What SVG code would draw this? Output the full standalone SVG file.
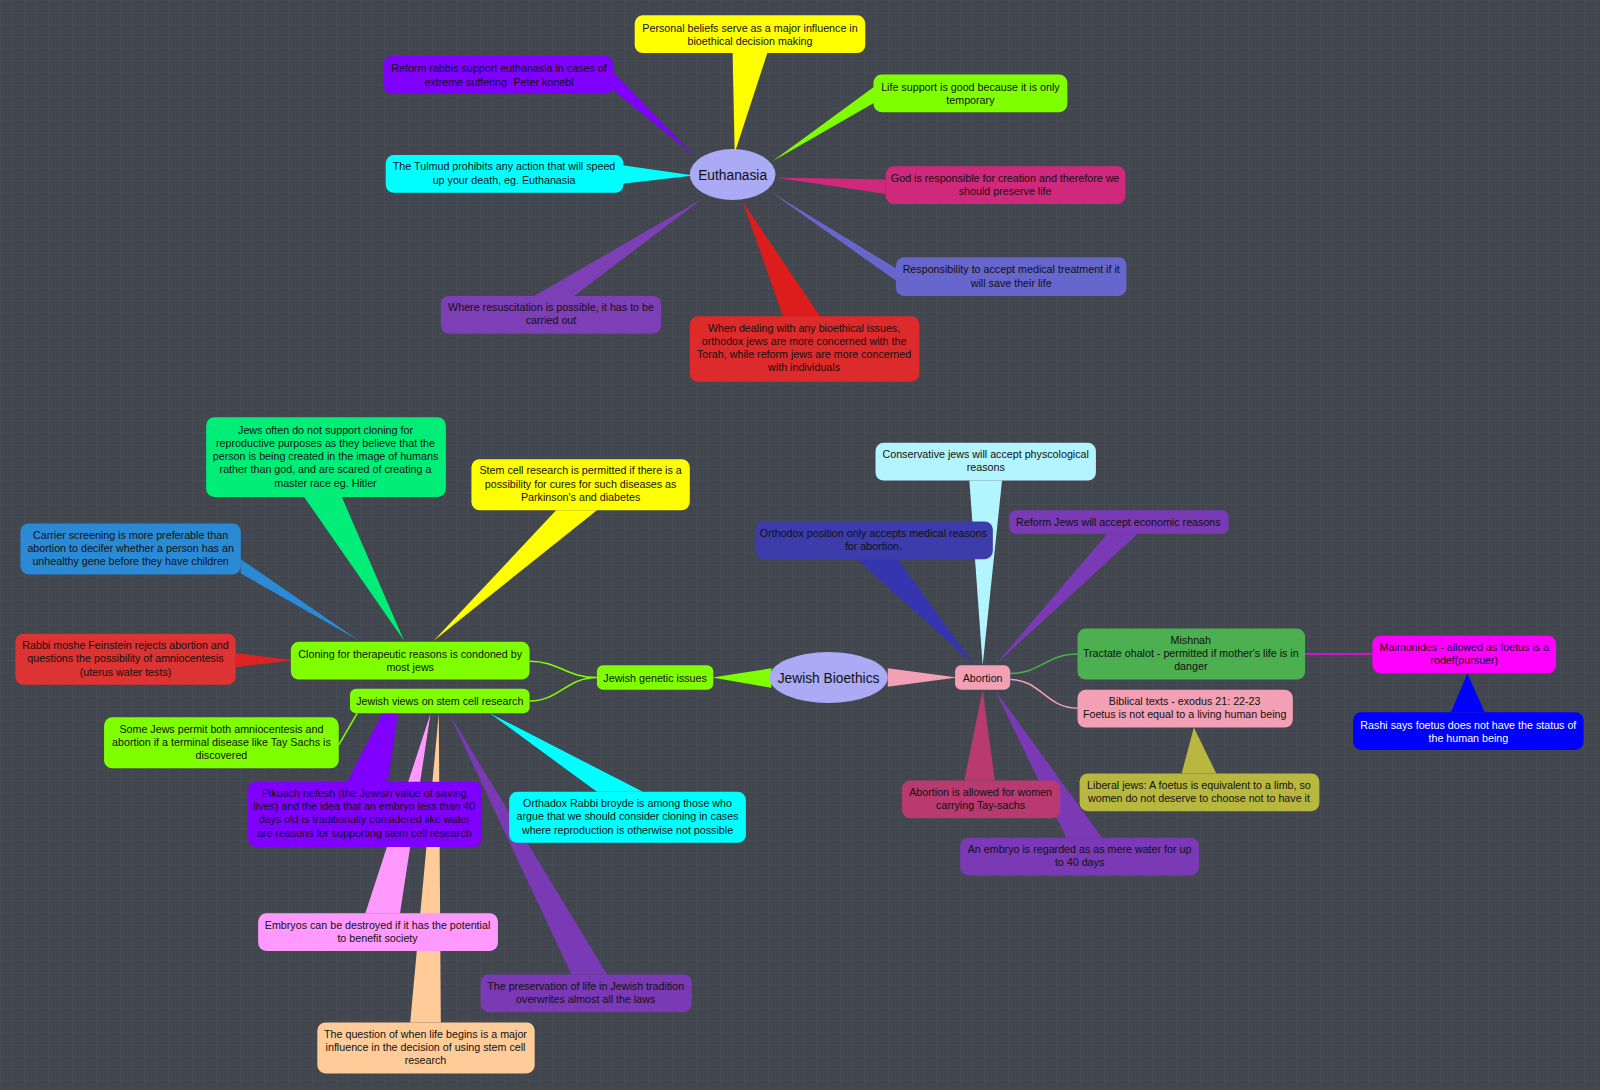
<svg xmlns="http://www.w3.org/2000/svg" width="1600" height="1090" viewBox="0 0 1600 1090">
<defs>
<pattern id="grid" width="12" height="12" patternUnits="userSpaceOnUse"><rect width="12" height="12" fill="#41464f"/><path d="M12 0H0V12" fill="none" stroke="#4a4f58" stroke-width="1"/></pattern>
<style>
text{font-family:"Liberation Sans",Arial,sans-serif;font-size:10.5px;fill:#111;text-anchor:middle}
.w{fill:#fff}
.big{font-size:13.5px}
.ln{fill:none;stroke-width:1.5}
</style>
</defs>
<rect width="1600" height="1090" fill="url(#grid)"/>
<g transform="scale(1.0204)">
<g id="connectors">
<polygon points="720,150 718,52 752,52" fill="#ffff00"/>
<polygon points="680,152 598,68 598,86" fill="#8000ff"/>
<polygon points="757,158 858,84 858,100" fill="#80ff00"/>
<polygon points="680,172 610,162 610,180" fill="#00ffff"/>
<polygon points="760,174 868,176 868,190" fill="#d0287a"/>
<polygon points="755,188 878,263 878,275" fill="#6666cc"/>
<polygon points="688,195 520,292 560,292" fill="#7d3fb5"/>
<polygon points="728,198 768,312 805,312" fill="#dd1c1c"/>
<polygon points="698,664 756,655 756,674" fill="#80ff00"/>
<polygon points="870,655 870,673 938,664" fill="#f4a0b4"/>
<path class="ln" d="M585,664 C555,664 548,648 519,648 M585,664 C555,664 548,687 519,687" stroke="#80ff00"/>
<polygon points="396,628 298,487 335,487" fill="#00ee77"/>
<polygon points="425,628 545,500 585,500" fill="#ffff00"/>
<polygon points="352,628 236,548 236,562" fill="#2a8ad6"/>
<polygon points="287,647 231,640 231,654" fill="#dd2222"/>
<path class="ln" d="M350,699 L332,730" stroke="#80ff00"/>
<polygon points="375,699 390,699 380,766 340,766" fill="#8000ff"/>
<polygon points="422,699 358,895 392,895" fill="#ff99ff"/>
<polygon points="430,699 402,1002 432,1002" fill="#ffcc99"/>
<polygon points="440,699 560,955 595,955" fill="#7a3ab5"/>
<polygon points="480,699 585,776 630,776" fill="#00ffff"/>
<polygon points="963,652 950,471 982,471" fill="#b3f5ff"/>
<polygon points="955,652 840,548 880,548" fill="#3535b0"/>
<polygon points="975,652 1085,523 1115,523" fill="#7a3ab5"/>
<path class="ln" d="M990,660 C1020,660 1025,641 1056,641" stroke="#4caf50"/>
<path class="ln" d="M990,666 C1020,666 1025,694 1056,694" stroke="#f4a0b4"/>
<path class="ln" d="M1279,641 L1345,641" stroke="#ff00ff"/>
<polygon points="1438,660 1422,698 1455,698" fill="#0000ff"/>
<polygon points="1170,713 1158,758 1192,758" fill="#b8b840"/>
<polygon points="963,676 945,765 975,765" fill="#b83a70"/>
<polygon points="975,676 1045,821 1080,821" fill="#7a3ab5"/>
</g>
<g id="euthanasia"><ellipse cx="718" cy="171" rx="42" ry="25" fill="#aaaaf5"/><text class="big" x="718" y="176">Euthanasia</text></g>
<g id="bioethics"><ellipse cx="812" cy="664" rx="58" ry="25" fill="#aaaaf5"/><text class="big" x="812" y="669">Jewish Bioethics</text></g>
<g id="n1"><rect x="622" y="15" width="226" height="37" rx="8" fill="#ffff00"/><text x="735" y="31">Personal beliefs serve as a major influence in</text><text x="735" y="44">bioethical decision making</text></g>
<g id="n2"><rect x="376" y="55" width="225" height="37" rx="8" fill="#8000ff"/><text x="489" y="71">Reform rabbis support euthanasia in cases of</text><text x="489" y="84">extreme suffering -Peter konebl</text></g>
<g id="n3"><rect x="856" y="73" width="190" height="37" rx="8" fill="#80ff00"/><text x="951" y="89">Life support is good because it is only</text><text x="951" y="102">temporary</text></g>
<g id="n4"><rect x="378" y="152" width="233" height="37" rx="8" fill="#00ffff"/><text x="494" y="167">The Tulmud prohibits any action that will speed</text><text x="494" y="180">up your death, eg. Euthanasia</text></g>
<g id="n5"><rect x="868" y="163" width="235" height="37" rx="8" fill="#d0287a"/><text x="985" y="178">God is responsible for creation and therefore we</text><text x="985" y="191">should preserve life</text></g>
<g id="n6"><rect x="878" y="252" width="226" height="38" rx="8" fill="#6666cc"/><text x="991" y="268">Responsibility to accept medical treatment if it</text><text x="991" y="281">will save their life</text></g>
<g id="n7"><rect x="432" y="290" width="216" height="37" rx="8" fill="#7d3fb5"/><text x="540" y="305">Where resuscitation is possible, it has to be</text><text x="540" y="318">carried out</text></g>
<g id="n8"><rect x="676" y="310" width="225" height="64" rx="8" fill="#dd2b2b"/><text x="788" y="325">When dealing with any bioethical issues,</text><text x="788" y="338">orthodox jews are more concerned with the</text><text x="788" y="351">Torah, while reform jews are more concerned</text><text x="788" y="364">with individuals</text></g>
<g id="genetic"><rect x="585" y="652" width="114" height="24" rx="6" fill="#80ff00"/><text x="642" y="668">Jewish genetic issues</text></g>
<g id="abortion"><rect x="936" y="652" width="54" height="24" rx="6" fill="#f4a0b4"/><text x="963" y="668">Abortion</text></g>
<g id="cloning"><rect x="285" y="629" width="234" height="37" rx="8" fill="#80ff00"/><text x="402" y="645">Cloning for therapeutic reasons is condoned by</text><text x="402" y="658">most jews</text></g>
<g id="stemviews"><rect x="343" y="675" width="176" height="24" rx="6" fill="#80ff00"/><text x="431" y="691">Jewish views on stem cell research</text></g>
<g id="n9"><rect x="202" y="409" width="235" height="78" rx="8" fill="#00ee77"/><text x="319" y="425">Jews often do not support cloning for</text><text x="319" y="438">reproductive purposes as they believe that the</text><text x="319" y="451">person is being created in the image of humans</text><text x="319" y="464">rather than god, and are scared of creating a</text><text x="319" y="477">master race eg. Hitler</text></g>
<g id="n10"><rect x="462" y="450" width="214" height="50" rx="8" fill="#ffff00"/><text x="569" y="465">Stem cell research is permitted if there is a</text><text x="569" y="478">possibility for cures for such diseases as</text><text x="569" y="491">Parkinson's and diabetes</text></g>
<g id="n11"><rect x="20" y="513" width="216" height="50" rx="8" fill="#2a8ad6"/><text x="128" y="528">Carrier screening is more preferable than</text><text x="128" y="541">abortion to decifer whether a person has an</text><text x="128" y="554">unhealthy gene before they have children</text></g>
<g id="n12"><rect x="15" y="621" width="216" height="50" rx="8" fill="#dd3333"/><text x="123" y="636">Rabbi moshe Feinstein rejects abortion and</text><text x="123" y="649">questions the possibility of amniocentesis</text><text x="123" y="662">(uterus water tests)</text></g>
<g id="n13"><rect x="102" y="703" width="230" height="50" rx="8" fill="#80ff00"/><text x="217" y="718">Some Jews permit both amniocentesis and</text><text x="217" y="731">abortion if a terminal disease like Tay Sachs is</text><text x="217" y="744">discovered</text></g>
<g id="n14"><rect x="243" y="766" width="229" height="64" rx="8" fill="#8000ff"/><text x="357" y="781">Pikuach nefesh (the Jewish value of saving</text><text x="357" y="794">lives) and the idea that an embryo less than 40</text><text x="357" y="807">days old is traditionally considered like water</text><text x="357" y="820">are reasons for supporting stem cell research</text></g>
<g id="n15"><rect x="499" y="776" width="232" height="50" rx="8" fill="#00ffff"/><text x="615" y="791">Orthadox Rabbi broyde is among those who</text><text x="615" y="804">argue that we should consider cloning in cases</text><text x="615" y="817">where reproduction is otherwise not possible</text></g>
<g id="n16"><rect x="253" y="895" width="235" height="37" rx="8" fill="#ff99ff"/><text x="370" y="910">Embryos can be destroyed if it has the potential</text><text x="370" y="923">to benefit society</text></g>
<g id="n17"><rect x="471" y="955" width="207" height="37" rx="8" fill="#7a3ab5"/><text x="574" y="970">The preservation of life in Jewish tradition</text><text x="574" y="983">overwrites almost all the laws</text></g>
<g id="n18"><rect x="311" y="1002" width="213" height="50" rx="8" fill="#ffcc99"/><text x="417" y="1017">The question of when life begins is a major</text><text x="417" y="1030">influence in the decision of using stem cell</text><text x="417" y="1043">research</text></g>
<g id="n19"><rect x="858" y="434" width="216" height="37" rx="8" fill="#b3f5ff"/><text x="966" y="449">Conservative jews will accept physcological</text><text x="966" y="462">reasons</text></g>
<g id="n20"><rect x="740" y="511" width="233" height="37" rx="8" fill="#3c3caa"/><text x="856" y="526">Orthodox position only accepts medical reasons</text><text x="856" y="539">for abortion.</text></g>
<g id="n21"><rect x="989" y="500" width="215" height="23" rx="6" fill="#7a3ab5"/><text x="1096" y="515">Reform Jews will accept economic reasons</text></g>
<g id="n22"><rect x="1056" y="616" width="223" height="50" rx="8" fill="#4caf50"/><text x="1167" y="631">Mishnah</text><text x="1167" y="644">Tractate ohalot - permitted if mother's life is in</text><text x="1167" y="657">danger</text></g>
<g id="n23"><rect x="1056" y="676" width="211" height="37" rx="8" fill="#f4a0b4"/><text x="1161" y="691">Biblical texts - exodus 21: 22-23</text><text x="1161" y="704">Foetus is not equal to a living human being</text></g>
<g id="n24"><rect x="1345" y="623" width="180" height="37" rx="8" fill="#ff00ff"/><text x="1435" y="638">Maimonides - allowed as foetus is a</text><text x="1435" y="651">rodef(pursuer)</text></g>
<g id="n25"><rect x="1326" y="698" width="226" height="37" rx="8" fill="#0000ff"/><text class="w" x="1439" y="714">Rashi says foetus does not have the status of</text><text class="w" x="1439" y="727">the human being</text></g>
<g id="n26"><rect x="1058" y="758" width="235" height="37" rx="8" fill="#b8b840"/><text x="1175" y="773">Liberal jews: A foetus is equivalent to a limb, so</text><text x="1175" y="786">women do not deserve to choose not to have it</text></g>
<g id="n27"><rect x="884" y="765" width="155" height="37" rx="8" fill="#b83a70"/><text x="961" y="780">Abortion is allowed for women</text><text x="961" y="793">carrying Tay-sachs</text></g>
<g id="n28"><rect x="941" y="821" width="234" height="37" rx="8" fill="#7a3ab5"/><text x="1058" y="836">An embryo is regarded as as mere water for up</text><text x="1058" y="849">to 40 days</text></g>
</g>
</svg>
